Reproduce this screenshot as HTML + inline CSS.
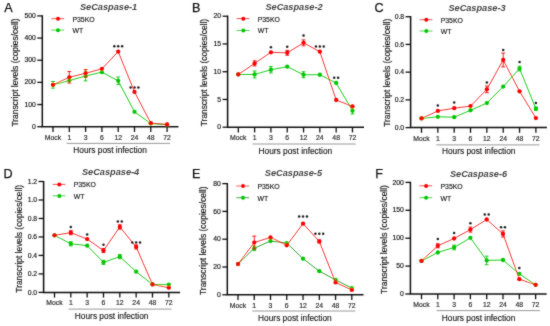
<!DOCTYPE html>
<html><head><meta charset="utf-8"><style>
html,body{margin:0;padding:0;background:#fff;}
body{width:550px;height:326px;overflow:hidden;}
svg{display:block;font-family:"Liberation Sans", sans-serif;}
</style></head><body>
<svg width="550" height="326" viewBox="0 0 550 326">
<defs><filter id="b" x="0" y="0" width="550" height="326" filterUnits="userSpaceOnUse"><feConvolveMatrix order="3" kernelMatrix="1 2 1 2 20 2 1 2 1" divisor="32" edgeMode="none"/></filter></defs>
<rect width="550" height="326" fill="#fff"/>
<g filter="url(#b)">
<text x="4.3" y="11.5" font-size="12.6" fill="#111" stroke="#111" stroke-width="0.25">A</text>
<text x="108.6" y="10" font-size="9.2" font-weight="bold" font-style="italic" text-anchor="middle" fill="#444">SeCaspase-1</text>
<text transform="translate(18,72.55) rotate(-90)" font-size="8.42" text-anchor="middle" fill="#1a1a1a" stroke="#1a1a1a" stroke-width="0.18">Transcript levels (copies/cell)</text>
<path d="M42.3,15.3V126.7H178.4" stroke="#111" stroke-width="1.5" fill="none"/>
<path d="M37.3,126.7H42.3" stroke="#111" stroke-width="1.3"/>
<text x="35.8" y="128.8" font-size="6.8" text-anchor="end" fill="#222" stroke="#222" stroke-width="0.18">0</text>
<path d="M37.3,104.54H42.3" stroke="#111" stroke-width="1.3"/>
<text x="35.8" y="106.64" font-size="6.8" text-anchor="end" fill="#222" stroke="#222" stroke-width="0.18">100</text>
<path d="M37.3,82.38H42.3" stroke="#111" stroke-width="1.3"/>
<text x="35.8" y="84.48" font-size="6.8" text-anchor="end" fill="#222" stroke="#222" stroke-width="0.18">200</text>
<path d="M37.3,60.22H42.3" stroke="#111" stroke-width="1.3"/>
<text x="35.8" y="62.32" font-size="6.8" text-anchor="end" fill="#222" stroke="#222" stroke-width="0.18">300</text>
<path d="M37.3,38.06H42.3" stroke="#111" stroke-width="1.3"/>
<text x="35.8" y="40.16" font-size="6.8" text-anchor="end" fill="#222" stroke="#222" stroke-width="0.18">400</text>
<path d="M37.3,15.9H42.3" stroke="#111" stroke-width="1.3"/>
<text x="35.8" y="18" font-size="6.8" text-anchor="end" fill="#222" stroke="#222" stroke-width="0.18">500</text>
<path d="M53,126.7V131.9" stroke="#111" stroke-width="1.3"/>
<text x="53" y="139.7" font-size="6.85" text-anchor="middle" fill="#333" stroke="#333" stroke-width="0.2">Mock</text>
<path d="M69.3,126.7V131.9" stroke="#111" stroke-width="1.3"/>
<text x="69.3" y="139.7" font-size="6.85" text-anchor="middle" fill="#333" stroke="#333" stroke-width="0.2">1</text>
<path d="M85.6,126.7V131.9" stroke="#111" stroke-width="1.3"/>
<text x="85.6" y="139.7" font-size="6.85" text-anchor="middle" fill="#333" stroke="#333" stroke-width="0.2">3</text>
<path d="M101.9,126.7V131.9" stroke="#111" stroke-width="1.3"/>
<text x="101.9" y="139.7" font-size="6.85" text-anchor="middle" fill="#333" stroke="#333" stroke-width="0.2">6</text>
<path d="M118.2,126.7V131.9" stroke="#111" stroke-width="1.3"/>
<text x="118.2" y="139.7" font-size="6.85" text-anchor="middle" fill="#333" stroke="#333" stroke-width="0.2">12</text>
<path d="M134.5,126.7V131.9" stroke="#111" stroke-width="1.3"/>
<text x="134.5" y="139.7" font-size="6.85" text-anchor="middle" fill="#333" stroke="#333" stroke-width="0.2">24</text>
<path d="M150.8,126.7V131.9" stroke="#111" stroke-width="1.3"/>
<text x="150.8" y="139.7" font-size="6.85" text-anchor="middle" fill="#333" stroke="#333" stroke-width="0.2">48</text>
<path d="M167.1,126.7V131.9" stroke="#111" stroke-width="1.3"/>
<text x="167.1" y="139.7" font-size="6.85" text-anchor="middle" fill="#333" stroke="#333" stroke-width="0.2">72</text>
<path d="M66.6,143.4H170" stroke="#999" stroke-width="1"/>
<text x="110.05" y="153.4" font-size="8.33" text-anchor="middle" fill="#222" stroke="#222" stroke-width="0.15">Hours post infection</text>
<path d="M51.3,18.7H64.1" stroke="#ff0000" stroke-width="0.7"/>
<circle cx="58" cy="18.8" r="2" fill="#ff0000"/>
<text x="72.4" y="21.6" font-size="6.9" fill="#222" stroke="#222" stroke-width="0.15">P35KO</text>
<path d="M51.3,30.1H64.1" stroke="#00c800" stroke-width="0.7"/>
<circle cx="58" cy="30.2" r="2" fill="#00c800"/>
<text x="72.4" y="33" font-size="6.9" fill="#222" stroke="#222" stroke-width="0.15">WT</text>
<polyline points="53,84.82 69.3,80.61 85.6,75.95 101.9,72.19 118.2,80.83 134.5,111.85 150.8,123.6 167.1,124.71" stroke="#00c800" stroke-width="0.9" fill="none"/>
<path d="M53,81.49V88.14M51.1,81.49H54.9M51.1,88.14H54.9" stroke="#00c800" stroke-width="0.9" fill="none"/>
<path d="M85.6,71.08V80.83M83.7,71.08H87.5M83.7,80.83H87.5" stroke="#00c800" stroke-width="0.9" fill="none"/>
<path d="M118.2,77.06V84.6M116.3,77.06H120.1M116.3,84.6H120.1" stroke="#00c800" stroke-width="0.9" fill="none"/>
<circle cx="53" cy="84.82" r="2.15" fill="#00c800"/>
<circle cx="69.3" cy="80.61" r="2.15" fill="#00c800"/>
<circle cx="85.6" cy="75.95" r="2.15" fill="#00c800"/>
<circle cx="101.9" cy="72.19" r="2.15" fill="#00c800"/>
<circle cx="118.2" cy="80.83" r="2.15" fill="#00c800"/>
<circle cx="134.5" cy="111.85" r="2.15" fill="#00c800"/>
<circle cx="150.8" cy="123.6" r="2.15" fill="#00c800"/>
<circle cx="167.1" cy="124.71" r="2.15" fill="#00c800"/>
<polyline points="53,84.82 69.3,77.28 85.6,73.29 101.9,68.86 118.2,51.58 134.5,91.91 150.8,123.15 167.1,124.48" stroke="#ff0000" stroke-width="0.8" fill="none"/>
<path d="M69.3,71.52V83.04M67.4,71.52H71.2M67.4,83.04H71.2" stroke="#ff0000" stroke-width="0.9" fill="none"/>
<path d="M85.6,69.53V77.06M83.7,69.53H87.5M83.7,77.06H87.5" stroke="#ff0000" stroke-width="0.9" fill="none"/>
<circle cx="53" cy="84.82" r="2.15" fill="#ff0000"/>
<circle cx="69.3" cy="77.28" r="2.15" fill="#ff0000"/>
<circle cx="85.6" cy="73.29" r="2.15" fill="#ff0000"/>
<circle cx="101.9" cy="68.86" r="2.15" fill="#ff0000"/>
<circle cx="118.2" cy="51.58" r="2.15" fill="#ff0000"/>
<circle cx="134.5" cy="91.91" r="2.15" fill="#ff0000"/>
<circle cx="150.8" cy="123.15" r="2.15" fill="#ff0000"/>
<circle cx="167.1" cy="124.48" r="2.15" fill="#ff0000"/>
<circle cx="114.3" cy="46.3" r="1.25" fill="#222"/>
<circle cx="118.2" cy="46.3" r="1.25" fill="#222"/>
<circle cx="122.1" cy="46.3" r="1.25" fill="#222"/>
<circle cx="130.6" cy="87.5" r="1.25" fill="#222"/>
<circle cx="134.5" cy="87.5" r="1.25" fill="#222"/>
<circle cx="138.4" cy="87.5" r="1.25" fill="#222"/>
<text x="191.9" y="11.7" font-size="12.6" fill="#111" stroke="#111" stroke-width="0.25">B</text>
<text x="294" y="10.1" font-size="9.2" font-weight="bold" font-style="italic" text-anchor="middle" fill="#444">SeCaspase-2</text>
<text transform="translate(207.2,72.55) rotate(-90)" font-size="8.36" text-anchor="middle" fill="#1a1a1a" stroke="#1a1a1a" stroke-width="0.18">Transcript levels (copies/cell)</text>
<path d="M227.6,15.6V127.2H364" stroke="#111" stroke-width="1.5" fill="none"/>
<path d="M222.6,127.2H227.6" stroke="#111" stroke-width="1.3"/>
<text x="221.1" y="129.3" font-size="6.8" text-anchor="end" fill="#222" stroke="#222" stroke-width="0.18">0</text>
<path d="M222.6,99.45H227.6" stroke="#111" stroke-width="1.3"/>
<text x="221.1" y="101.55" font-size="6.8" text-anchor="end" fill="#222" stroke="#222" stroke-width="0.18">5</text>
<path d="M222.6,71.7H227.6" stroke="#111" stroke-width="1.3"/>
<text x="221.1" y="73.8" font-size="6.8" text-anchor="end" fill="#222" stroke="#222" stroke-width="0.18">10</text>
<path d="M222.6,43.95H227.6" stroke="#111" stroke-width="1.3"/>
<text x="221.1" y="46.05" font-size="6.8" text-anchor="end" fill="#222" stroke="#222" stroke-width="0.18">15</text>
<path d="M222.6,16.2H227.6" stroke="#111" stroke-width="1.3"/>
<text x="221.1" y="18.3" font-size="6.8" text-anchor="end" fill="#222" stroke="#222" stroke-width="0.18">20</text>
<path d="M238.3,127.2V132.4" stroke="#111" stroke-width="1.3"/>
<text x="238.3" y="140.2" font-size="6.85" text-anchor="middle" fill="#333" stroke="#333" stroke-width="0.2">Mock</text>
<path d="M254.61,127.2V132.4" stroke="#111" stroke-width="1.3"/>
<text x="254.61" y="140.2" font-size="6.85" text-anchor="middle" fill="#333" stroke="#333" stroke-width="0.2">1</text>
<path d="M270.92,127.2V132.4" stroke="#111" stroke-width="1.3"/>
<text x="270.92" y="140.2" font-size="6.85" text-anchor="middle" fill="#333" stroke="#333" stroke-width="0.2">3</text>
<path d="M287.23,127.2V132.4" stroke="#111" stroke-width="1.3"/>
<text x="287.23" y="140.2" font-size="6.85" text-anchor="middle" fill="#333" stroke="#333" stroke-width="0.2">6</text>
<path d="M303.54,127.2V132.4" stroke="#111" stroke-width="1.3"/>
<text x="303.54" y="140.2" font-size="6.85" text-anchor="middle" fill="#333" stroke="#333" stroke-width="0.2">12</text>
<path d="M319.85,127.2V132.4" stroke="#111" stroke-width="1.3"/>
<text x="319.85" y="140.2" font-size="6.85" text-anchor="middle" fill="#333" stroke="#333" stroke-width="0.2">24</text>
<path d="M336.16,127.2V132.4" stroke="#111" stroke-width="1.3"/>
<text x="336.16" y="140.2" font-size="6.85" text-anchor="middle" fill="#333" stroke="#333" stroke-width="0.2">48</text>
<path d="M352.47,127.2V132.4" stroke="#111" stroke-width="1.3"/>
<text x="352.47" y="140.2" font-size="6.85" text-anchor="middle" fill="#333" stroke="#333" stroke-width="0.2">72</text>
<path d="M252.6,144H355.8" stroke="#999" stroke-width="1"/>
<text x="295.38" y="154" font-size="8.33" text-anchor="middle" fill="#222" stroke="#222" stroke-width="0.15">Hours post infection</text>
<path d="M236.6,18.6H249.4" stroke="#ff0000" stroke-width="0.7"/>
<circle cx="243.3" cy="18.7" r="2" fill="#ff0000"/>
<text x="257.7" y="21.5" font-size="6.9" fill="#222" stroke="#222" stroke-width="0.15">P35KO</text>
<path d="M236.6,30.5H249.4" stroke="#00c800" stroke-width="0.7"/>
<circle cx="243.3" cy="30.6" r="2" fill="#00c800"/>
<text x="257.7" y="33.4" font-size="6.9" fill="#222" stroke="#222" stroke-width="0.15">WT</text>
<polyline points="238.3,74.47 254.61,74.47 270.92,69.76 287.23,66.7 303.54,74.75 319.85,74.75 336.16,83.02 352.47,110.72" stroke="#00c800" stroke-width="0.9" fill="none"/>
<path d="M254.61,71.03V77.92M252.71,71.03H256.51M252.71,77.92H256.51" stroke="#00c800" stroke-width="0.9" fill="none"/>
<path d="M270.92,66.54V72.98M269.02,66.54H272.82M269.02,72.98H272.82" stroke="#00c800" stroke-width="0.9" fill="none"/>
<path d="M303.54,71.76V77.75M301.64,71.76H305.44M301.64,77.75H305.44" stroke="#00c800" stroke-width="0.9" fill="none"/>
<path d="M352.47,107.5V113.94M350.57,107.5H354.37M350.57,113.94H354.37" stroke="#00c800" stroke-width="0.9" fill="none"/>
<circle cx="238.3" cy="74.47" r="2.15" fill="#00c800"/>
<circle cx="254.61" cy="74.47" r="2.15" fill="#00c800"/>
<circle cx="270.92" cy="69.76" r="2.15" fill="#00c800"/>
<circle cx="287.23" cy="66.7" r="2.15" fill="#00c800"/>
<circle cx="303.54" cy="74.75" r="2.15" fill="#00c800"/>
<circle cx="319.85" cy="74.75" r="2.15" fill="#00c800"/>
<circle cx="336.16" cy="83.02" r="2.15" fill="#00c800"/>
<circle cx="352.47" cy="110.72" r="2.15" fill="#00c800"/>
<polyline points="238.3,74.47 254.61,63.38 270.92,52.28 287.23,52.83 303.54,42.84 319.85,51.72 336.16,100 352.47,106.39" stroke="#ff0000" stroke-width="0.8" fill="none"/>
<path d="M254.61,60.82V65.93M252.71,60.82H256.51M252.71,65.93H256.51" stroke="#ff0000" stroke-width="0.9" fill="none"/>
<path d="M287.23,50.39V55.27M285.33,50.39H289.13M285.33,55.27H289.13" stroke="#ff0000" stroke-width="0.9" fill="none"/>
<path d="M303.54,39.9V45.78M301.64,39.9H305.44M301.64,45.78H305.44" stroke="#ff0000" stroke-width="0.9" fill="none"/>
<circle cx="238.3" cy="74.47" r="2.15" fill="#ff0000"/>
<circle cx="254.61" cy="63.38" r="2.15" fill="#ff0000"/>
<circle cx="270.92" cy="52.28" r="2.15" fill="#ff0000"/>
<circle cx="287.23" cy="52.83" r="2.15" fill="#ff0000"/>
<circle cx="303.54" cy="42.84" r="2.15" fill="#ff0000"/>
<circle cx="319.85" cy="51.72" r="2.15" fill="#ff0000"/>
<circle cx="336.16" cy="100" r="2.15" fill="#ff0000"/>
<circle cx="352.47" cy="106.39" r="2.15" fill="#ff0000"/>
<circle cx="270.92" cy="47.3" r="1.25" fill="#222"/>
<circle cx="287.23" cy="46.8" r="1.25" fill="#222"/>
<circle cx="303.54" cy="35.4" r="1.25" fill="#222"/>
<circle cx="315.95" cy="46.5" r="1.25" fill="#222"/>
<circle cx="319.85" cy="46.5" r="1.25" fill="#222"/>
<circle cx="323.75" cy="46.5" r="1.25" fill="#222"/>
<circle cx="334.21" cy="77.7" r="1.25" fill="#222"/>
<circle cx="338.11" cy="77.7" r="1.25" fill="#222"/>
<text x="374.5" y="12" font-size="12.6" fill="#111" stroke="#111" stroke-width="0.25">C</text>
<text x="477" y="10.6" font-size="9.2" font-weight="bold" font-style="italic" text-anchor="middle" fill="#444">SeCaspase-3</text>
<text transform="translate(390.2,72.75) rotate(-90)" font-size="8.42" text-anchor="middle" fill="#1a1a1a" stroke="#1a1a1a" stroke-width="0.18">Transcript levels (copies/cell)</text>
<path d="M410.6,16.1V127.6H546.9" stroke="#111" stroke-width="1.5" fill="none"/>
<path d="M405.6,127.6H410.6" stroke="#111" stroke-width="1.3"/>
<text x="404.1" y="129.7" font-size="6.8" text-anchor="end" fill="#222" stroke="#222" stroke-width="0.18">0.0</text>
<path d="M405.6,99.88H410.6" stroke="#111" stroke-width="1.3"/>
<text x="404.1" y="101.97" font-size="6.8" text-anchor="end" fill="#222" stroke="#222" stroke-width="0.18">0.2</text>
<path d="M405.6,72.15H410.6" stroke="#111" stroke-width="1.3"/>
<text x="404.1" y="74.25" font-size="6.8" text-anchor="end" fill="#222" stroke="#222" stroke-width="0.18">0.4</text>
<path d="M405.6,44.43H410.6" stroke="#111" stroke-width="1.3"/>
<text x="404.1" y="46.53" font-size="6.8" text-anchor="end" fill="#222" stroke="#222" stroke-width="0.18">0.6</text>
<path d="M405.6,16.7H410.6" stroke="#111" stroke-width="1.3"/>
<text x="404.1" y="18.8" font-size="6.8" text-anchor="end" fill="#222" stroke="#222" stroke-width="0.18">0.8</text>
<path d="M421.5,127.6V132.8" stroke="#111" stroke-width="1.3"/>
<text x="421.5" y="140.6" font-size="6.85" text-anchor="middle" fill="#333" stroke="#333" stroke-width="0.2">Mock</text>
<path d="M437.84,127.6V132.8" stroke="#111" stroke-width="1.3"/>
<text x="437.84" y="140.6" font-size="6.85" text-anchor="middle" fill="#333" stroke="#333" stroke-width="0.2">1</text>
<path d="M454.18,127.6V132.8" stroke="#111" stroke-width="1.3"/>
<text x="454.18" y="140.6" font-size="6.85" text-anchor="middle" fill="#333" stroke="#333" stroke-width="0.2">3</text>
<path d="M470.52,127.6V132.8" stroke="#111" stroke-width="1.3"/>
<text x="470.52" y="140.6" font-size="6.85" text-anchor="middle" fill="#333" stroke="#333" stroke-width="0.2">6</text>
<path d="M486.86,127.6V132.8" stroke="#111" stroke-width="1.3"/>
<text x="486.86" y="140.6" font-size="6.85" text-anchor="middle" fill="#333" stroke="#333" stroke-width="0.2">12</text>
<path d="M503.2,127.6V132.8" stroke="#111" stroke-width="1.3"/>
<text x="503.2" y="140.6" font-size="6.85" text-anchor="middle" fill="#333" stroke="#333" stroke-width="0.2">24</text>
<path d="M519.54,127.6V132.8" stroke="#111" stroke-width="1.3"/>
<text x="519.54" y="140.6" font-size="6.85" text-anchor="middle" fill="#333" stroke="#333" stroke-width="0.2">48</text>
<path d="M535.88,127.6V132.8" stroke="#111" stroke-width="1.3"/>
<text x="535.88" y="140.6" font-size="6.85" text-anchor="middle" fill="#333" stroke="#333" stroke-width="0.2">72</text>
<path d="M436.3,144.9H539.5" stroke="#999" stroke-width="1"/>
<text x="478.69" y="154.1" font-size="8.33" text-anchor="middle" fill="#222" stroke="#222" stroke-width="0.15">Hours post infection</text>
<path d="M419.6,19.7H432.4" stroke="#ff0000" stroke-width="0.7"/>
<circle cx="426.3" cy="19.8" r="2" fill="#ff0000"/>
<text x="440.7" y="22.6" font-size="6.9" fill="#222" stroke="#222" stroke-width="0.15">P35KO</text>
<path d="M419.6,31H432.4" stroke="#00c800" stroke-width="0.7"/>
<circle cx="426.3" cy="31.1" r="2" fill="#00c800"/>
<text x="440.7" y="33.9" font-size="6.9" fill="#222" stroke="#222" stroke-width="0.15">WT</text>
<polyline points="421.5,118.45 437.84,116.79 454.18,117.2 470.52,110.27 486.86,103.06 503.2,86.57 519.54,68.55 535.88,108.75" stroke="#00c800" stroke-width="0.9" fill="none"/>
<path d="M519.54,66.19V70.9M517.64,66.19H521.44M517.64,70.9H521.44" stroke="#00c800" stroke-width="0.9" fill="none"/>
<path d="M535.88,107.08V110.41M533.98,107.08H537.78M533.98,110.41H537.78" stroke="#00c800" stroke-width="0.9" fill="none"/>
<circle cx="421.5" cy="118.45" r="2.15" fill="#00c800"/>
<circle cx="437.84" cy="116.79" r="2.15" fill="#00c800"/>
<circle cx="454.18" cy="117.2" r="2.15" fill="#00c800"/>
<circle cx="470.52" cy="110.27" r="2.15" fill="#00c800"/>
<circle cx="486.86" cy="103.06" r="2.15" fill="#00c800"/>
<circle cx="503.2" cy="86.57" r="2.15" fill="#00c800"/>
<circle cx="519.54" cy="68.55" r="2.15" fill="#00c800"/>
<circle cx="535.88" cy="108.75" r="2.15" fill="#00c800"/>
<polyline points="421.5,118.45 437.84,110.97 454.18,108.19 470.52,106.11 486.86,89.34 503.2,59.95 519.54,91.28 535.88,118.03" stroke="#ff0000" stroke-width="0.8" fill="none"/>
<path d="M486.86,86.01V92.67M484.96,86.01H488.76M484.96,92.67H488.76" stroke="#ff0000" stroke-width="0.9" fill="none"/>
<path d="M503.2,53.02V66.88M501.3,53.02H505.1M501.3,66.88H505.1" stroke="#ff0000" stroke-width="0.9" fill="none"/>
<circle cx="421.5" cy="118.45" r="2.15" fill="#ff0000"/>
<circle cx="437.84" cy="110.97" r="2.15" fill="#ff0000"/>
<circle cx="454.18" cy="108.19" r="2.15" fill="#ff0000"/>
<circle cx="470.52" cy="106.11" r="2.15" fill="#ff0000"/>
<circle cx="486.86" cy="89.34" r="2.15" fill="#ff0000"/>
<circle cx="503.2" cy="59.95" r="2.15" fill="#ff0000"/>
<circle cx="519.54" cy="91.28" r="2.15" fill="#ff0000"/>
<circle cx="535.88" cy="118.03" r="2.15" fill="#ff0000"/>
<circle cx="437.84" cy="105.5" r="1.25" fill="#222"/>
<circle cx="454.18" cy="102.5" r="1.25" fill="#222"/>
<circle cx="486.86" cy="82.5" r="1.25" fill="#222"/>
<circle cx="503.2" cy="50.1" r="1.25" fill="#222"/>
<circle cx="519.54" cy="62.1" r="1.25" fill="#222"/>
<circle cx="535.88" cy="103" r="1.25" fill="#222"/>
<text x="3.5" y="178" font-size="12.6" fill="#111" stroke="#111" stroke-width="0.25">D</text>
<text x="110.6" y="175.1" font-size="9.2" font-weight="bold" font-style="italic" text-anchor="middle" fill="#444">SeCaspase-4</text>
<text transform="translate(22.2,238.8) rotate(-90)" font-size="8.4" text-anchor="middle" fill="#1a1a1a" stroke="#1a1a1a" stroke-width="0.18">Transcript levels (copies/cell)</text>
<path d="M43.6,180.9V292.4H180.1" stroke="#111" stroke-width="1.5" fill="none"/>
<path d="M38.6,292.4H43.6" stroke="#111" stroke-width="1.3"/>
<text x="37.1" y="294.5" font-size="6.8" text-anchor="end" fill="#222" stroke="#222" stroke-width="0.18">0.0</text>
<path d="M38.6,273.92H43.6" stroke="#111" stroke-width="1.3"/>
<text x="37.1" y="276.02" font-size="6.8" text-anchor="end" fill="#222" stroke="#222" stroke-width="0.18">0.2</text>
<path d="M38.6,255.43H43.6" stroke="#111" stroke-width="1.3"/>
<text x="37.1" y="257.53" font-size="6.8" text-anchor="end" fill="#222" stroke="#222" stroke-width="0.18">0.4</text>
<path d="M38.6,236.95H43.6" stroke="#111" stroke-width="1.3"/>
<text x="37.1" y="239.05" font-size="6.8" text-anchor="end" fill="#222" stroke="#222" stroke-width="0.18">0.6</text>
<path d="M38.6,218.47H43.6" stroke="#111" stroke-width="1.3"/>
<text x="37.1" y="220.57" font-size="6.8" text-anchor="end" fill="#222" stroke="#222" stroke-width="0.18">0.8</text>
<path d="M38.6,199.98H43.6" stroke="#111" stroke-width="1.3"/>
<text x="37.1" y="202.08" font-size="6.8" text-anchor="end" fill="#222" stroke="#222" stroke-width="0.18">1.0</text>
<path d="M38.6,181.5H43.6" stroke="#111" stroke-width="1.3"/>
<text x="37.1" y="183.6" font-size="6.8" text-anchor="end" fill="#222" stroke="#222" stroke-width="0.18">1.2</text>
<path d="M54.5,292.4V297.6" stroke="#111" stroke-width="1.3"/>
<text x="54.5" y="305.4" font-size="6.85" text-anchor="middle" fill="#333" stroke="#333" stroke-width="0.2">Mock</text>
<path d="M70.83,292.4V297.6" stroke="#111" stroke-width="1.3"/>
<text x="70.83" y="305.4" font-size="6.85" text-anchor="middle" fill="#333" stroke="#333" stroke-width="0.2">1</text>
<path d="M87.16,292.4V297.6" stroke="#111" stroke-width="1.3"/>
<text x="87.16" y="305.4" font-size="6.85" text-anchor="middle" fill="#333" stroke="#333" stroke-width="0.2">3</text>
<path d="M103.49,292.4V297.6" stroke="#111" stroke-width="1.3"/>
<text x="103.49" y="305.4" font-size="6.85" text-anchor="middle" fill="#333" stroke="#333" stroke-width="0.2">6</text>
<path d="M119.82,292.4V297.6" stroke="#111" stroke-width="1.3"/>
<text x="119.82" y="305.4" font-size="6.85" text-anchor="middle" fill="#333" stroke="#333" stroke-width="0.2">12</text>
<path d="M136.15,292.4V297.6" stroke="#111" stroke-width="1.3"/>
<text x="136.15" y="305.4" font-size="6.85" text-anchor="middle" fill="#333" stroke="#333" stroke-width="0.2">24</text>
<path d="M152.48,292.4V297.6" stroke="#111" stroke-width="1.3"/>
<text x="152.48" y="305.4" font-size="6.85" text-anchor="middle" fill="#333" stroke="#333" stroke-width="0.2">48</text>
<path d="M168.81,292.4V297.6" stroke="#111" stroke-width="1.3"/>
<text x="168.81" y="305.4" font-size="6.85" text-anchor="middle" fill="#333" stroke="#333" stroke-width="0.2">72</text>
<path d="M68.5,309.1H171.5" stroke="#999" stroke-width="1"/>
<text x="111.66" y="319.4" font-size="8.33" text-anchor="middle" fill="#222" stroke="#222" stroke-width="0.15">Hours post infection</text>
<path d="M52.6,184.4H65.4" stroke="#ff0000" stroke-width="0.7"/>
<circle cx="59.3" cy="184.5" r="2" fill="#ff0000"/>
<text x="73.7" y="187.3" font-size="6.9" fill="#222" stroke="#222" stroke-width="0.15">P35KO</text>
<path d="M52.6,195.8H65.4" stroke="#00c800" stroke-width="0.7"/>
<circle cx="59.3" cy="195.9" r="2" fill="#00c800"/>
<text x="73.7" y="198.7" font-size="6.9" fill="#222" stroke="#222" stroke-width="0.15">WT</text>
<polyline points="54.5,235.29 70.83,243.79 87.16,245.64 103.49,262.36 119.82,256.63 136.15,271.7 152.48,284.45 168.81,284.73" stroke="#00c800" stroke-width="0.9" fill="none"/>
<path d="M70.83,241.76V245.82M68.93,241.76H72.73M68.93,245.82H72.73" stroke="#00c800" stroke-width="0.9" fill="none"/>
<path d="M103.49,260.33V264.4M101.59,260.33H105.39M101.59,264.4H105.39" stroke="#00c800" stroke-width="0.9" fill="none"/>
<path d="M119.82,254.6V258.67M117.92,254.6H121.72M117.92,258.67H121.72" stroke="#00c800" stroke-width="0.9" fill="none"/>
<circle cx="54.5" cy="235.29" r="2.15" fill="#00c800"/>
<circle cx="70.83" cy="243.79" r="2.15" fill="#00c800"/>
<circle cx="87.16" cy="245.64" r="2.15" fill="#00c800"/>
<circle cx="103.49" cy="262.36" r="2.15" fill="#00c800"/>
<circle cx="119.82" cy="256.63" r="2.15" fill="#00c800"/>
<circle cx="136.15" cy="271.7" r="2.15" fill="#00c800"/>
<circle cx="152.48" cy="284.45" r="2.15" fill="#00c800"/>
<circle cx="168.81" cy="284.73" r="2.15" fill="#00c800"/>
<polyline points="54.5,235.29 70.83,232.7 87.16,239.08 103.49,250.54 119.82,226.97 136.15,246.93 152.48,284.45 168.81,287.69" stroke="#ff0000" stroke-width="0.8" fill="none"/>
<path d="M70.83,230.67V234.73M68.93,230.67H72.73M68.93,234.73H72.73" stroke="#ff0000" stroke-width="0.9" fill="none"/>
<path d="M103.49,248.5V252.57M101.59,248.5H105.39M101.59,252.57H105.39" stroke="#ff0000" stroke-width="0.9" fill="none"/>
<path d="M119.82,224.75V229.19M117.92,224.75H121.72M117.92,229.19H121.72" stroke="#ff0000" stroke-width="0.9" fill="none"/>
<path d="M136.15,244.9V248.96M134.25,244.9H138.05M134.25,248.96H138.05" stroke="#ff0000" stroke-width="0.9" fill="none"/>
<circle cx="54.5" cy="235.29" r="2.15" fill="#ff0000"/>
<circle cx="70.83" cy="232.7" r="2.15" fill="#ff0000"/>
<circle cx="87.16" cy="239.08" r="2.15" fill="#ff0000"/>
<circle cx="103.49" cy="250.54" r="2.15" fill="#ff0000"/>
<circle cx="119.82" cy="226.97" r="2.15" fill="#ff0000"/>
<circle cx="136.15" cy="246.93" r="2.15" fill="#ff0000"/>
<circle cx="152.48" cy="284.45" r="2.15" fill="#ff0000"/>
<circle cx="168.81" cy="287.69" r="2.15" fill="#ff0000"/>
<circle cx="70.83" cy="227.1" r="1.25" fill="#222"/>
<circle cx="87.16" cy="234.4" r="1.25" fill="#222"/>
<circle cx="103.49" cy="244.7" r="1.25" fill="#222"/>
<circle cx="117.87" cy="221.4" r="1.25" fill="#222"/>
<circle cx="121.77" cy="221.4" r="1.25" fill="#222"/>
<circle cx="132.25" cy="242.6" r="1.25" fill="#222"/>
<circle cx="136.15" cy="242.6" r="1.25" fill="#222"/>
<circle cx="140.05" cy="242.6" r="1.25" fill="#222"/>
<text x="191.9" y="178.1" font-size="12.6" fill="#111" stroke="#111" stroke-width="0.25">E</text>
<text x="293.4" y="175.6" font-size="9.2" font-weight="bold" font-style="italic" text-anchor="middle" fill="#444">SeCaspase-5</text>
<text transform="translate(205.9,240.75) rotate(-90)" font-size="8.45" text-anchor="middle" fill="#1a1a1a" stroke="#1a1a1a" stroke-width="0.18">Transcript levels (copies/cell)</text>
<path d="M227.3,183V294.8H363.5" stroke="#111" stroke-width="1.5" fill="none"/>
<path d="M222.3,294.8H227.3" stroke="#111" stroke-width="1.3"/>
<text x="220.8" y="296.9" font-size="6.8" text-anchor="end" fill="#222" stroke="#222" stroke-width="0.18">0</text>
<path d="M222.3,267H227.3" stroke="#111" stroke-width="1.3"/>
<text x="220.8" y="269.1" font-size="6.8" text-anchor="end" fill="#222" stroke="#222" stroke-width="0.18">20</text>
<path d="M222.3,239.2H227.3" stroke="#111" stroke-width="1.3"/>
<text x="220.8" y="241.3" font-size="6.8" text-anchor="end" fill="#222" stroke="#222" stroke-width="0.18">40</text>
<path d="M222.3,211.4H227.3" stroke="#111" stroke-width="1.3"/>
<text x="220.8" y="213.5" font-size="6.8" text-anchor="end" fill="#222" stroke="#222" stroke-width="0.18">60</text>
<path d="M222.3,183.6H227.3" stroke="#111" stroke-width="1.3"/>
<text x="220.8" y="185.7" font-size="6.8" text-anchor="end" fill="#222" stroke="#222" stroke-width="0.18">80</text>
<path d="M238,294.8V300" stroke="#111" stroke-width="1.3"/>
<text x="238" y="307.8" font-size="6.85" text-anchor="middle" fill="#333" stroke="#333" stroke-width="0.2">Mock</text>
<path d="M254.26,294.8V300" stroke="#111" stroke-width="1.3"/>
<text x="254.26" y="307.8" font-size="6.85" text-anchor="middle" fill="#333" stroke="#333" stroke-width="0.2">1</text>
<path d="M270.52,294.8V300" stroke="#111" stroke-width="1.3"/>
<text x="270.52" y="307.8" font-size="6.85" text-anchor="middle" fill="#333" stroke="#333" stroke-width="0.2">3</text>
<path d="M286.78,294.8V300" stroke="#111" stroke-width="1.3"/>
<text x="286.78" y="307.8" font-size="6.85" text-anchor="middle" fill="#333" stroke="#333" stroke-width="0.2">6</text>
<path d="M303.04,294.8V300" stroke="#111" stroke-width="1.3"/>
<text x="303.04" y="307.8" font-size="6.85" text-anchor="middle" fill="#333" stroke="#333" stroke-width="0.2">12</text>
<path d="M319.3,294.8V300" stroke="#111" stroke-width="1.3"/>
<text x="319.3" y="307.8" font-size="6.85" text-anchor="middle" fill="#333" stroke="#333" stroke-width="0.2">24</text>
<path d="M335.56,294.8V300" stroke="#111" stroke-width="1.3"/>
<text x="335.56" y="307.8" font-size="6.85" text-anchor="middle" fill="#333" stroke="#333" stroke-width="0.2">48</text>
<path d="M351.82,294.8V300" stroke="#111" stroke-width="1.3"/>
<text x="351.82" y="307.8" font-size="6.85" text-anchor="middle" fill="#333" stroke="#333" stroke-width="0.2">72</text>
<path d="M252.4,311H355.2" stroke="#999" stroke-width="1"/>
<text x="294.91" y="321.3" font-size="8.33" text-anchor="middle" fill="#222" stroke="#222" stroke-width="0.15">Hours post infection</text>
<path d="M236.3,186H249.1" stroke="#ff8080" stroke-width="1.3"/>
<circle cx="243" cy="186.1" r="2" fill="#ff0000"/>
<text x="257.4" y="188.9" font-size="6.9" fill="#222" stroke="#222" stroke-width="0.15">P35KO</text>
<path d="M236.3,197.7H249.1" stroke="#1f961f" stroke-width="0.8"/>
<circle cx="243" cy="197.8" r="2" fill="#00c800"/>
<text x="257.4" y="200.6" font-size="6.9" fill="#222" stroke="#222" stroke-width="0.15">WT</text>
<polyline points="238,264.08 254.26,248.24 270.52,241.01 286.78,243.09 303.04,258.66 319.3,271.17 335.56,279.86 351.82,288.13" stroke="#1f961f" stroke-width="0.9" fill="none"/>
<path d="M254.26,245.87V250.6M252.36,245.87H256.16M252.36,250.6H256.16" stroke="#00c800" stroke-width="0.9" fill="none"/>
<circle cx="238" cy="264.08" r="2.15" fill="#00c800"/>
<circle cx="254.26" cy="248.24" r="2.15" fill="#00c800"/>
<circle cx="270.52" cy="241.01" r="2.15" fill="#00c800"/>
<circle cx="286.78" cy="243.09" r="2.15" fill="#00c800"/>
<circle cx="303.04" cy="258.66" r="2.15" fill="#00c800"/>
<circle cx="319.3" cy="271.17" r="2.15" fill="#00c800"/>
<circle cx="335.56" cy="279.86" r="2.15" fill="#00c800"/>
<circle cx="351.82" cy="288.13" r="2.15" fill="#00c800"/>
<polyline points="238,264.08 254.26,242.54 270.52,237.39 286.78,245.32 303.04,223.63 319.3,241.42 335.56,282.43 351.82,289.94" stroke="#ff0000" stroke-width="0.8" fill="none"/>
<path d="M254.26,236.14V248.93M252.36,236.14H256.16M252.36,248.93H256.16" stroke="#ff0000" stroke-width="0.9" fill="none"/>
<path d="M319.3,239.9V242.95M317.4,239.9H321.2M317.4,242.95H321.2" stroke="#ff0000" stroke-width="0.9" fill="none"/>
<circle cx="238" cy="264.08" r="2.15" fill="#ff0000"/>
<circle cx="254.26" cy="242.54" r="2.15" fill="#ff0000"/>
<circle cx="270.52" cy="237.39" r="2.15" fill="#ff0000"/>
<circle cx="286.78" cy="245.32" r="2.15" fill="#ff0000"/>
<circle cx="303.04" cy="223.63" r="2.15" fill="#ff0000"/>
<circle cx="319.3" cy="241.42" r="2.15" fill="#ff0000"/>
<circle cx="335.56" cy="282.43" r="2.15" fill="#ff0000"/>
<circle cx="351.82" cy="289.94" r="2.15" fill="#ff0000"/>
<circle cx="299.14" cy="216.5" r="1.25" fill="#222"/>
<circle cx="303.04" cy="216.5" r="1.25" fill="#222"/>
<circle cx="306.94" cy="216.5" r="1.25" fill="#222"/>
<circle cx="315.4" cy="233.7" r="1.25" fill="#222"/>
<circle cx="319.3" cy="233.7" r="1.25" fill="#222"/>
<circle cx="323.2" cy="233.7" r="1.25" fill="#222"/>
<text x="375.3" y="178.1" font-size="12.6" fill="#111" stroke="#111" stroke-width="0.25">F</text>
<text x="478.5" y="176.8" font-size="9.2" font-weight="bold" font-style="italic" text-anchor="middle" fill="#444">SeCaspase-6</text>
<text transform="translate(387.4,239.5) rotate(-90)" font-size="8.48" text-anchor="middle" fill="#1a1a1a" stroke="#1a1a1a" stroke-width="0.18">Transcript levels (copies/cell)</text>
<path d="M410.4,181.8V294H546.7" stroke="#111" stroke-width="1.5" fill="none"/>
<path d="M405.4,294H410.4" stroke="#111" stroke-width="1.3"/>
<text x="403.9" y="296.1" font-size="6.8" text-anchor="end" fill="#222" stroke="#222" stroke-width="0.18">0</text>
<path d="M405.4,266.1H410.4" stroke="#111" stroke-width="1.3"/>
<text x="403.9" y="268.2" font-size="6.8" text-anchor="end" fill="#222" stroke="#222" stroke-width="0.18">50</text>
<path d="M405.4,238.2H410.4" stroke="#111" stroke-width="1.3"/>
<text x="403.9" y="240.3" font-size="6.8" text-anchor="end" fill="#222" stroke="#222" stroke-width="0.18">100</text>
<path d="M405.4,210.3H410.4" stroke="#111" stroke-width="1.3"/>
<text x="403.9" y="212.4" font-size="6.8" text-anchor="end" fill="#222" stroke="#222" stroke-width="0.18">150</text>
<path d="M405.4,182.4H410.4" stroke="#111" stroke-width="1.3"/>
<text x="403.9" y="184.5" font-size="6.8" text-anchor="end" fill="#222" stroke="#222" stroke-width="0.18">200</text>
<path d="M421.5,294V299.2" stroke="#111" stroke-width="1.3"/>
<text x="421.5" y="307" font-size="6.85" text-anchor="middle" fill="#333" stroke="#333" stroke-width="0.2">Mock</text>
<path d="M437.8,294V299.2" stroke="#111" stroke-width="1.3"/>
<text x="437.8" y="307" font-size="6.85" text-anchor="middle" fill="#333" stroke="#333" stroke-width="0.2">1</text>
<path d="M454.1,294V299.2" stroke="#111" stroke-width="1.3"/>
<text x="454.1" y="307" font-size="6.85" text-anchor="middle" fill="#333" stroke="#333" stroke-width="0.2">3</text>
<path d="M470.4,294V299.2" stroke="#111" stroke-width="1.3"/>
<text x="470.4" y="307" font-size="6.85" text-anchor="middle" fill="#333" stroke="#333" stroke-width="0.2">6</text>
<path d="M486.7,294V299.2" stroke="#111" stroke-width="1.3"/>
<text x="486.7" y="307" font-size="6.85" text-anchor="middle" fill="#333" stroke="#333" stroke-width="0.2">12</text>
<path d="M503,294V299.2" stroke="#111" stroke-width="1.3"/>
<text x="503" y="307" font-size="6.85" text-anchor="middle" fill="#333" stroke="#333" stroke-width="0.2">24</text>
<path d="M519.3,294V299.2" stroke="#111" stroke-width="1.3"/>
<text x="519.3" y="307" font-size="6.85" text-anchor="middle" fill="#333" stroke="#333" stroke-width="0.2">48</text>
<path d="M535.6,294V299.2" stroke="#111" stroke-width="1.3"/>
<text x="535.6" y="307" font-size="6.85" text-anchor="middle" fill="#333" stroke="#333" stroke-width="0.2">72</text>
<path d="M436.7,310.6H540" stroke="#999" stroke-width="1"/>
<text x="478.55" y="320.9" font-size="8.33" text-anchor="middle" fill="#222" stroke="#222" stroke-width="0.15">Hours post infection</text>
<path d="M419.4,185.8H432.2" stroke="#ff0000" stroke-width="0.7"/>
<circle cx="426.1" cy="185.9" r="2" fill="#ff0000"/>
<text x="440.5" y="188.7" font-size="6.9" fill="#222" stroke="#222" stroke-width="0.15">P35KO</text>
<path d="M419.4,197.7H432.2" stroke="#00c800" stroke-width="0.7"/>
<circle cx="426.1" cy="197.8" r="2" fill="#00c800"/>
<text x="440.5" y="200.6" font-size="6.9" fill="#222" stroke="#222" stroke-width="0.15">WT</text>
<polyline points="421.5,260.91 437.8,252.48 454.1,247.46 470.4,237.87 486.7,260.41 503,260.02 519.3,273.86 535.6,284.85" stroke="#00c800" stroke-width="0.9" fill="none"/>
<path d="M454.1,245.12V249.81M452.2,245.12H456M452.2,249.81H456" stroke="#00c800" stroke-width="0.9" fill="none"/>
<path d="M486.7,256.11V264.7M484.8,256.11H488.6M484.8,264.7H488.6" stroke="#00c800" stroke-width="0.9" fill="none"/>
<circle cx="421.5" cy="260.91" r="2.15" fill="#00c800"/>
<circle cx="437.8" cy="252.48" r="2.15" fill="#00c800"/>
<circle cx="454.1" cy="247.46" r="2.15" fill="#00c800"/>
<circle cx="470.4" cy="237.87" r="2.15" fill="#00c800"/>
<circle cx="486.7" cy="260.41" r="2.15" fill="#00c800"/>
<circle cx="503" cy="260.02" r="2.15" fill="#00c800"/>
<circle cx="519.3" cy="273.86" r="2.15" fill="#00c800"/>
<circle cx="535.6" cy="284.85" r="2.15" fill="#00c800"/>
<polyline points="421.5,260.91 437.8,245.79 454.1,238.48 470.4,229.61 486.7,219.51 503,233.96 519.3,279.16 535.6,284.85" stroke="#ff0000" stroke-width="0.8" fill="none"/>
<path d="M437.8,243.78V247.8M435.9,243.78H439.7M435.9,247.8H439.7" stroke="#ff0000" stroke-width="0.9" fill="none"/>
<path d="M470.4,227.1V232.12M468.5,227.1H472.3M468.5,232.12H472.3" stroke="#ff0000" stroke-width="0.9" fill="none"/>
<path d="M503,230.89V237.03M501.1,230.89H504.9M501.1,237.03H504.9" stroke="#ff0000" stroke-width="0.9" fill="none"/>
<circle cx="421.5" cy="260.91" r="2.15" fill="#ff0000"/>
<circle cx="437.8" cy="245.79" r="2.15" fill="#ff0000"/>
<circle cx="454.1" cy="238.48" r="2.15" fill="#ff0000"/>
<circle cx="470.4" cy="229.61" r="2.15" fill="#ff0000"/>
<circle cx="486.7" cy="219.51" r="2.15" fill="#ff0000"/>
<circle cx="503" cy="233.96" r="2.15" fill="#ff0000"/>
<circle cx="519.3" cy="279.16" r="2.15" fill="#ff0000"/>
<circle cx="535.6" cy="284.85" r="2.15" fill="#ff0000"/>
<circle cx="437.8" cy="239.1" r="1.25" fill="#222"/>
<circle cx="454.1" cy="232.9" r="1.25" fill="#222"/>
<circle cx="470.4" cy="223.2" r="1.25" fill="#222"/>
<circle cx="484.75" cy="214.6" r="1.25" fill="#222"/>
<circle cx="488.65" cy="214.6" r="1.25" fill="#222"/>
<circle cx="501.05" cy="227.3" r="1.25" fill="#222"/>
<circle cx="504.95" cy="227.3" r="1.25" fill="#222"/>
<circle cx="519.3" cy="268" r="1.25" fill="#222"/>
</g>
</svg>
</body></html>
